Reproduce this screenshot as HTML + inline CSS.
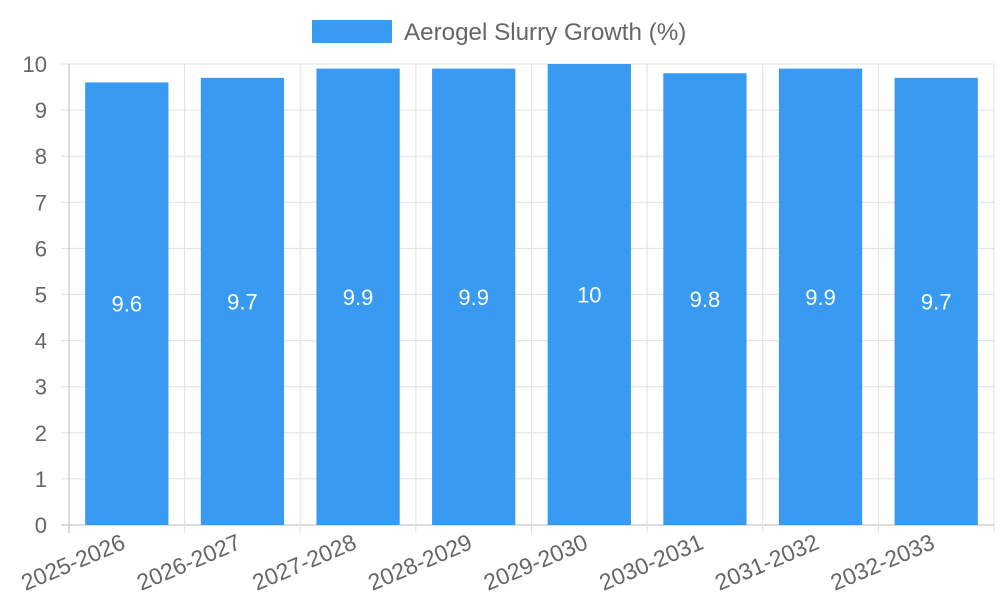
<!DOCTYPE html>
<html><head><meta charset="utf-8"><style>
body{margin:0;background:#fff;}
svg{display:block;font-family:"Liberation Sans",sans-serif;}
</style></head><body>
<svg id="chart" width="1000" height="600"></svg>
<script>
const categories=["2025-2026","2026-2027","2027-2028","2028-2029","2029-2030","2030-2031","2031-2032","2032-2033"];
const values=[9.6,9.7,9.9,9.9,10,9.8,9.9,9.7];
const yTicks=[0,1,2,3,4,5,6,7,8,9,10];
const NS="http://www.w3.org/2000/svg";
const svg=document.getElementById('chart');
const L=69,R=994,T=64,B=525,yMax=10;
const bw=(R-L)/categories.length;
const y=v=>B-(v/yMax)*(B-T);
const x=i=>L+i*bw;
function mk(tag,attrs,parent){const e=document.createElementNS(NS,tag);for(const k in attrs)e.setAttribute(k,attrs[k]);(parent||svg).appendChild(e);return e;}
// legend
const lr=mk('rect',{x:312,y:20,width:80,height:23,fill:'#389af0'});


const lt=mk('text',{x:404,y:40,'font-size':24.2,fill:'#666'});lt.textContent='Aerogel Slurry Growth (%)';


// grid
yTicks.forEach(t=>{
  const g=mk('line',{x1:L-8,x2:R,y1:y(t),y2:y(t),stroke:t===0?'#bbb':'#e0e0e0','stroke-width':1});
  
  
  const tx=mk('text',{x:47,y:y(t)+8,'font-size':22,fill:'#666','text-anchor':'end'});tx.textContent=t;
  
  
});
for(let i=0;i<=categories.length;i++){
  const g=mk('line',{x1:x(i),x2:x(i),y1:T,y2:B+8,stroke:i===0?'#bbb':'#e0e0e0','stroke-width':1});
  
  
}
categories.forEach((c,i)=>{
  const cx=x(i)+bw/2, w=bw*0.72;
  const r=mk('rect',{x:cx-w/2,y:y(values[i]),width:w,height:B-y(values[i]),fill:'#389af0'});
  
  
  const v=mk('text',{x:cx,y:(y(values[i])+B)/2+8,'font-size':22,fill:'#fff','text-anchor':'middle'});v.textContent=values[i];
  
  
  const lx=cx, ly=548;
  const l=mk('text',{x:lx,y:ly,'font-size':23,fill:'#666','text-anchor':'end',transform:`rotate(-23 ${lx} ${ly})`});l.textContent=c;
  
  
});
</script>
</body></html>
